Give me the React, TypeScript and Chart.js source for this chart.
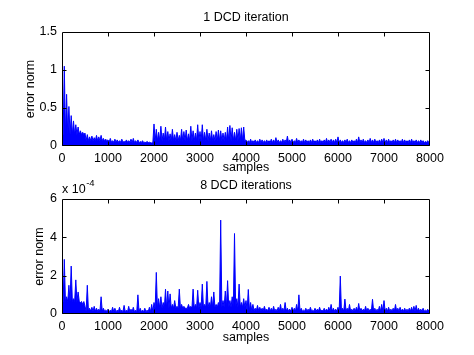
import { useEffect, useRef } from 'react';
import { Chart, registerables } from 'chart.js';

Chart.register(...registerables);

// ---------------- data ----------------
const SAMPLE_STEP = 50; // samples between successive envelope peaks
const LOW_BLOCK = 500; // samples covered by one trough (dense base) value
const X_MAX = 8000;
const X_TICKS = [0, 1000, 2000, 3000, 4000, 5000, 6000, 7000, 8000];
const TOP_Y_TICKS = [0, 0.5, 1, 1.5];
const BOTTOM_Y_TICKS = [0, 2, 4, 6]; // in units of 10^-4
const TOP_TITLE = '1 DCD iteration';
const BOTTOM_TITLE = '8 DCD iterations';
const X_LABEL = 'samples';
const Y_LABEL = 'error norm';
const BOTTOM_EXP_BASE = 'x 10';
const BOTTOM_EXP = '-4';

// error norm peaks, one per 50 samples (0..8000)
const TOP_PEAKS = [
  0.12, 1.05, 0.68, 0.52, 0.40, 0.33, 0.28, 0.25, 0.20, 0.18,
  0.17, 0.15, 0.12, 0.13, 0.11, 0.14, 0.12, 0.14, 0.10, 0.09,
  0.08, 0.10, 0.07, 0.09, 0.08, 0.07, 0.09, 0.06, 0.08, 0.07,
  0.09, 0.10, 0.07, 0.08, 0.06, 0.07, 0.05, 0.06, 0.05, 0.04,
  0.29, 0.22, 0.18, 0.26, 0.17, 0.25, 0.19, 0.16, 0.22, 0.15,
  0.18, 0.14, 0.22, 0.19, 0.21, 0.16, 0.26, 0.20, 0.17, 0.28,
  0.19, 0.28, 0.18, 0.22, 0.17, 0.20, 0.15, 0.19, 0.21, 0.20,
  0.17, 0.18, 0.25, 0.27, 0.24, 0.18, 0.22, 0.23, 0.24, 0.25,
  0.08, 0.07, 0.09, 0.07, 0.08, 0.07, 0.09, 0.08, 0.07, 0.08,
  0.07, 0.09, 0.08, 0.11, 0.08, 0.07, 0.09, 0.08, 0.13, 0.08,
  0.09, 0.07, 0.10, 0.08, 0.07, 0.09, 0.08, 0.07, 0.08, 0.09,
  0.07, 0.08, 0.09, 0.07, 0.08, 0.10, 0.08, 0.09, 0.08, 0.09,
  0.12, 0.08, 0.07, 0.08, 0.09, 0.07, 0.08, 0.07, 0.09, 0.12,
  0.08, 0.09, 0.07, 0.08, 0.10, 0.08, 0.09, 0.07, 0.08, 0.09,
  0.10, 0.08, 0.09, 0.07, 0.08, 0.09, 0.08, 0.07, 0.09, 0.08,
  0.07, 0.08, 0.09, 0.07, 0.08, 0.07, 0.08, 0.07, 0.06, 0.07,
  0.08,
];
// dense base level, one per 500 samples
const TOP_LOWS = [0.15, 0.07, 0.05, 0.045, 0.07, 0.07, 0.07, 0.07, 0.045, 0.045, 0.045, 0.045, 0.045, 0.045, 0.045, 0.045];

// 8 iterations, peaks in units of 10^-4, one per 50 samples
const BOTTOM_PEAKS = [
  0.4, 2.85, 0.9, 1.5, 2.5, 0.8, 1.78, 1.15, 0.6, 0.5,
  0.4, 1.5, 0.3, 0.35, 0.4, 0.3, 0.25, 0.9, 0.3, 0.2,
  0.25, 0.2, 0.35, 0.3, 0.2, 0.35, 0.2, 0.45, 0.2, 0.4,
  0.25, 0.35, 0.2, 1.0, 0.3, 0.2, 0.3, 0.2, 0.35, 0.5,
  0.6, 2.17, 0.8, 0.9, 0.6, 1.3, 1.2, 1.05, 0.5, 0.7,
  0.4, 1.3, 0.5, 0.4, 0.3, 0.5, 0.4, 1.3, 0.5, 1.24,
  0.6, 1.56, 0.5, 1.7, 0.6, 0.9, 1.15, 0.5, 0.6, 4.9,
  0.7, 1.2, 1.74, 0.7, 0.9, 4.2, 0.8, 1.56, 0.6, 0.8,
  0.7, 1.28, 0.6, 0.5, 0.3, 0.45, 0.35, 0.3, 0.4, 0.25,
  0.35, 0.3, 0.4, 0.25, 0.35, 0.5, 0.3, 0.6, 0.3, 0.25,
  0.35, 0.3, 0.5, 1.0, 0.3, 0.2, 0.3, 0.25, 0.35, 0.2,
  0.3, 0.25, 0.35, 0.2, 0.3, 0.25, 0.35, 0.5, 0.3, 0.25,
  0.35, 1.98, 0.3, 0.78, 0.3, 0.5, 0.25, 0.3, 0.35, 0.55,
  0.3, 0.25, 0.4, 0.3, 0.25, 0.77, 0.3, 0.25, 0.4, 0.5,
  0.7, 0.3, 0.35, 0.25, 0.3, 0.5, 0.3, 0.35, 0.25, 0.3,
  0.25, 0.3, 0.35, 0.4, 0.45, 0.3, 0.25, 0.3, 0.2, 0.25,
  0.2,
];
const BOTTOM_LOWS = [0.65, 0.15, 0.12, 0.12, 0.3, 0.3, 0.35, 0.35, 0.18, 0.15, 0.15, 0.15, 0.15, 0.15, 0.15, 0.15];

// ---------------- styling ----------------
const FAMILY = '"Liberation Sans Narrow", "Arial Narrow", "Liberation Sans", Arial, sans-serif';
const FONT_SIZE = 12.5;
const LINE_COLOR = '#0000ff';
const AXIS_COLOR = '#000000';
const TICK_LEN = 4;
const Y_AXIS_WIDTH = 62;

type Panel = {
  peaks: number[];
  lows: number[];
  yTicks: number[];
  title: string;
  canvasHeight: number;
  padTop: number;
  padRight: number;
  xAxisHeight: number;
  titleY: number;
  xLabelY: number;
  yLabelX: number;
  exponent?: boolean;
};

function makePoints(peaks: number[], lows: number[]) {
  const pts: { x: number; y: number }[] = [];
  peaks.forEach((v, i) => {
    const x = i * SAMPLE_STEP;
    pts.push({ x, y: v });
    if (i < peaks.length - 1) {
      pts.push({ x: x + SAMPLE_STEP / 2, y: lows[Math.floor(x / LOW_BLOCK)] });
    }
  });
  return pts;
}

function matlabPlugin(p: Panel) {
  return {
    id: 'matlabAxes',
    afterDraw(chart: any) {
      const { ctx, chartArea } = chart;
      const { left, right, top, bottom } = chartArea;
      const xs = chart.scales.x;
      const ys = chart.scales.y;
      ctx.save();
      ctx.strokeStyle = AXIS_COLOR;
      ctx.lineWidth = 1;
      const L = Math.round(left) + 0.5;
      const R = Math.round(right) - 0.5;
      const T = Math.round(top) + 0.5;
      const B = Math.round(bottom) - 0.5;
      ctx.beginPath();
      ctx.rect(L, T, R - L, B - T);
      X_TICKS.forEach((v) => {
        const px = Math.round(xs.getPixelForValue(v)) + 0.5;
        if (px <= L + 1 || px >= R - 1) return;
        ctx.moveTo(px, B);
        ctx.lineTo(px, B - TICK_LEN);
        ctx.moveTo(px, T);
        ctx.lineTo(px, T + TICK_LEN);
      });
      p.yTicks.forEach((v) => {
        const py = Math.round(ys.getPixelForValue(v)) + 0.5;
        if (py <= T + 1 || py >= B - 1) return;
        ctx.moveTo(L, py);
        ctx.lineTo(L + TICK_LEN, py);
        ctx.moveTo(R, py);
        ctx.lineTo(R - TICK_LEN, py);
      });
      ctx.stroke();

      ctx.fillStyle = '#000';
      ctx.font = `${FONT_SIZE}px ${FAMILY}`;
      ctx.textAlign = 'center';
      ctx.textBaseline = 'middle';
      const cx = (left + right) / 2;
      ctx.fillText(p.title, cx, p.titleY);
      ctx.fillText(X_LABEL, cx, p.xLabelY);
      ctx.save();
      ctx.translate(p.yLabelX, (top + bottom) / 2);
      ctx.rotate(-Math.PI / 2);
      ctx.fillText(Y_LABEL, 0, 0);
      ctx.restore();

      if (p.exponent) {
        ctx.textAlign = 'left';
        ctx.textBaseline = 'alphabetic';
        const baseY = top - 6;
        ctx.fillText(BOTTOM_EXP_BASE, left, baseY);
        const w = ctx.measureText(BOTTOM_EXP_BASE).width;
        ctx.font = `${FONT_SIZE - 3}px ${FAMILY}`;
        ctx.fillText(BOTTOM_EXP, left + w + 0.5, baseY - 7);
      }
      ctx.restore();
    },
  };
}

function buildConfig(p: Panel): any {
  const font = { family: FAMILY, size: FONT_SIZE };
  return {
    type: 'line',
    data: {
      datasets: [
        {
          data: makePoints(p.peaks, p.lows),
          borderColor: LINE_COLOR,
          backgroundColor: LINE_COLOR,
          borderWidth: 1,
          pointRadius: 0,
          tension: 0,
          fill: 'origin',
        },
      ],
    },
    options: {
      responsive: false,
      animation: false,
      events: [],
      layout: { padding: { left: 0, right: p.padRight, top: p.padTop, bottom: 0 } },
      plugins: {
        legend: { display: false },
        tooltip: { enabled: false },
        title: { display: false },
      },
      scales: {
        x: {
          type: 'linear',
          min: 0,
          max: X_MAX,
          afterBuildTicks: (s: any) => {
            s.ticks = X_TICKS.map((v) => ({ value: v }));
          },
          ticks: {
            font,
            color: '#000',
            padding: 5,
            maxRotation: 0,
            autoSkip: false,
            callback: (v: any) => String(v),
          },
          grid: { display: false, drawTicks: false },
          border: { display: false },
          afterFit: (s: any) => {
            s.height = p.xAxisHeight;
            s.paddingLeft = 0;
            s.paddingRight = 0;
          },
        },
        y: {
          type: 'linear',
          min: p.yTicks[0],
          max: p.yTicks[p.yTicks.length - 1],
          afterBuildTicks: (s: any) => {
            s.ticks = p.yTicks.map((v) => ({ value: v }));
          },
          ticks: {
            font,
            color: '#000',
            padding: 5,
            autoSkip: false,
            callback: (v: any) => String(v),
          },
          grid: { display: false, drawTicks: false },
          border: { display: false },
          afterFit: (s: any) => {
            s.width = Y_AXIS_WIDTH;
            s.paddingTop = 0;
            s.paddingBottom = 0;
          },
        },
      },
    },
    plugins: [matlabPlugin(p)],
  };
}

const TOP_PANEL: Panel = {
  peaks: TOP_PEAKS,
  lows: TOP_LOWS,
  yTicks: TOP_Y_TICKS,
  title: TOP_TITLE,
  canvasHeight: 177,
  padTop: 32,
  padRight: 44,
  xAxisHeight: 31,
  titleY: 18,
  xLabelY: 168,
  yLabelX: 31,
};

const BOTTOM_PANEL: Panel = {
  peaks: BOTTOM_PEAKS,
  lows: BOTTOM_LOWS,
  yTicks: BOTTOM_Y_TICKS,
  title: BOTTOM_TITLE,
  canvasHeight: 178,
  padTop: 22,
  padRight: 44,
  xAxisHeight: 41,
  titleY: 9,
  xLabelY: 161,
  yLabelX: 40,
  exponent: true,
};

function PanelChart({ panel, top }: { panel: Panel; top: number }) {
  const ref = useRef<HTMLCanvasElement | null>(null);
  useEffect(() => {
    if (!ref.current) return;
    const chart = new Chart(ref.current, buildConfig(panel));
    return () => chart.destroy();
  }, [panel]);
  return (
    <canvas
      ref={ref}
      width={474}
      height={panel.canvasHeight}
      style={{ position: 'absolute', left: 0, top, width: 474, height: panel.canvasHeight }}
    />
  );
}

export default function App() {
  return (
    <div style={{ position: 'absolute', left: 0, top: 0, width: 474, height: 355, background: '#fff', overflow: 'hidden' }}>
      <PanelChart panel={TOP_PANEL} top={0} />
      <PanelChart panel={BOTTOM_PANEL} top={177} />
    </div>
  );
}
